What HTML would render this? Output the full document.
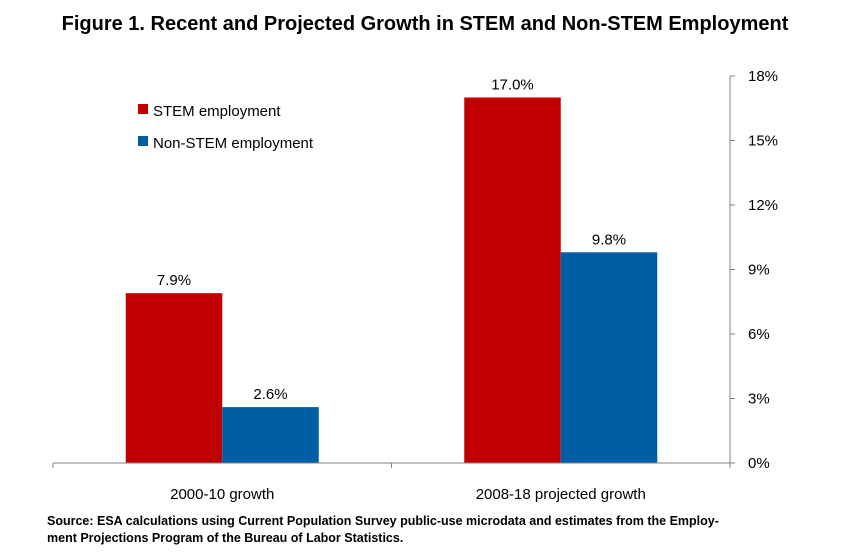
<!DOCTYPE html>
<html><head><meta charset="utf-8"><style>
body{margin:0;background:#fff;width:851px;height:552px;overflow:hidden;font-family:"Liberation Sans",sans-serif}
</style></head><body>
<svg width="851" height="552" xmlns="http://www.w3.org/2000/svg">
<text x="425" y="30" text-anchor="middle" font-size="20" font-weight="bold" fill="#000">Figure 1. Recent and Projected Growth in STEM and Non-STEM Employment</text>
<g id="plot"></g>
<g>
<rect x="138" y="104" width="10" height="10" fill="#c00000"/>
<text x="153" y="116" font-size="15" fill="#000">STEM employment</text>
<rect x="138" y="136" width="10" height="10" fill="#005ea5"/>
<text x="153" y="148" font-size="15" fill="#000">Non-STEM employment</text>
</g>
<text x="47" y="525" font-size="12.5" font-weight="bold" fill="#000">Source:  ESA calculations using Current Population Survey public-use microdata and  estimates from the Employ-</text>
<text x="47" y="542" font-size="12.5" font-weight="bold" fill="#000">ment Projections Program of the Bureau of Labor Statistics.</text>
</svg>
<script>
const categories=["2000-10 growth","2008-18 projected growth"];
const stemValues=[7.9,17.0];
const nonStemValues=[2.6,9.8];
const tickValues=[0,3,6,9,12,15,18];
const ns="http://www.w3.org/2000/svg";
const g=document.getElementById("plot");
const x0=53,x1=730,y0=463,y1=76,maxV=18;
const y=v=>y0-(v/maxV)*(y0-y1);
const cw=(x1-x0)/categories.length;
const bw=96.5;
function mk(t,a){const e=document.createElementNS(ns,t);for(const k in a)e.setAttribute(k,a[k]);g.appendChild(e);return e;}
categories.forEach((c,i)=>{
 const cx=x0+cw*(i+0.5);
 [[stemValues[i],"#c00000",cx-bw,"stem"],[nonStemValues[i],"#005ea5",cx,"nonstem"]].forEach(([v,col,bx,nm])=>{
  const r=mk("rect",{x:bx,y:y(v),width:bw,height:y0-y(v),fill:col});
  
  
  const t=mk("text",{x:bx+bw/2,y:y(v)-8,"text-anchor":"middle","font-size":"15",fill:"#000"});
  t.textContent=v.toFixed(1)+"%";
  
  
 });
 const l=mk("text",{x:cx,y:499,"text-anchor":"middle","font-size":"15",fill:"#000"});
 l.textContent=c;
 
 
});
const xa=mk("line",{x1:x0,y1:y0,x2:x1,y2:y0,stroke:"#808080"});


for(let i=0;i<=categories.length;i++){const t=mk("line",{x1:x0+cw*i,y1:y0,x2:x0+cw*i,y2:y0+5,stroke:"#808080"});

}
const ya=mk("line",{x1:x1,y1:y1,x2:x1,y2:y0+5,stroke:"#808080"});


tickValues.forEach(v=>{
 const t=mk("line",{x1:x1,y1:y(v),x2:x1+5,y2:y(v),stroke:"#808080"});
 
 
 const l=mk("text",{x:748,y:y(v)+5,"font-size":"15",fill:"#000"});
 l.textContent=v+"%";
 
 
});
</script>
</body></html>
